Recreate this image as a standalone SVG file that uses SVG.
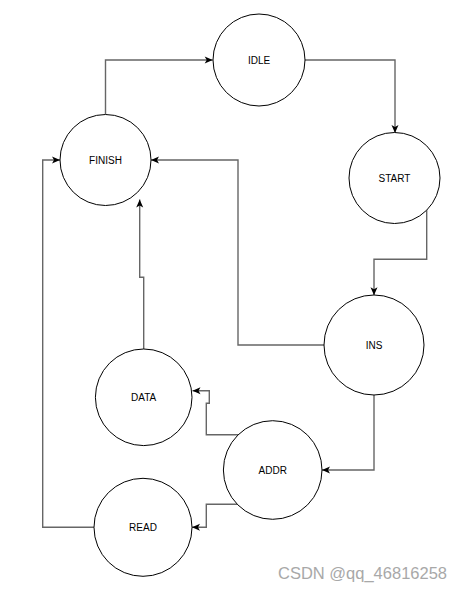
<svg xmlns="http://www.w3.org/2000/svg" width="463" height="592" viewBox="0 0 463 592">
<defs>
<marker id="arr" markerUnits="userSpaceOnUse" markerWidth="10" markerHeight="10" viewBox="0 0 10 10" refX="9" refY="5" orient="auto">
<path d="M1,1.5 L9,5 L1,8.5 L3,5 Z" fill="#000"/>
</marker>
<style>
.node circle{fill:#fff;stroke:#000;stroke-width:1}
.node text{font-family:"Liberation Sans",Arial,sans-serif;font-size:10px;fill:#000;text-anchor:middle;dominant-baseline:central}
.edge{fill:none;stroke:#666;stroke-width:1.4}
.arrow{marker-end:url(#arr)}
</style>
</defs>
<rect width="463" height="592" fill="#fff"/>
<g id="connectors">
<path class="edge arrow" d="M105.5,114 V60 H212.7"/>
<path class="edge arrow" d="M305,60 H395 V133"/>
<path class="edge arrow" d="M426.7,210 V259.3 H374 V295.3"/>
<path class="edge arrow" d="M324.3,345 H238 V160 H151"/>
<path class="edge arrow" d="M143.7,349.3 V277.3 H139.7 V199.5"/>
<path class="edge arrow" d="M238,434.7 H206.3 V403.3 H209.3 V390.7 H192.5"/>
<path class="edge arrow" d="M374,394.7 V470 H322"/>
<path class="edge arrow" d="M237.5,504.3 H206.3 V527.3 H192"/>
<path class="edge arrow" d="M94,527.3 H42.7 V160 H60"/>
</g>
<g id="IDLE" class="node"><circle cx="259" cy="60" r="46"/><text x="259" y="60">IDLE</text></g>
<g id="FINISH" class="node"><circle cx="105.5" cy="160" r="45.5"/><text x="105.5" y="160">FINISH</text></g>
<g id="START" class="node"><circle cx="394.5" cy="178" r="45.5"/><text x="394.5" y="178">START</text></g>
<g id="INS" class="node"><circle cx="374" cy="345" r="50"/><text x="374" y="345">INS</text></g>
<g id="DATA" class="node"><circle cx="143.7" cy="397.3" r="48.3"/><text x="143.7" y="397.3">DATA</text></g>
<g id="ADDR" class="node"><circle cx="272.7" cy="470" r="49.3"/><text x="272.7" y="470">ADDR</text></g>
<g id="READ" class="node"><circle cx="143" cy="527.3" r="49"/><text x="143" y="527.3">READ</text></g>
<text x="278" y="579" font-family="'Liberation Sans',Arial,sans-serif" font-size="16.5" fill="#a8a8a8">CSDN @qq_46816258</text>
</svg>
